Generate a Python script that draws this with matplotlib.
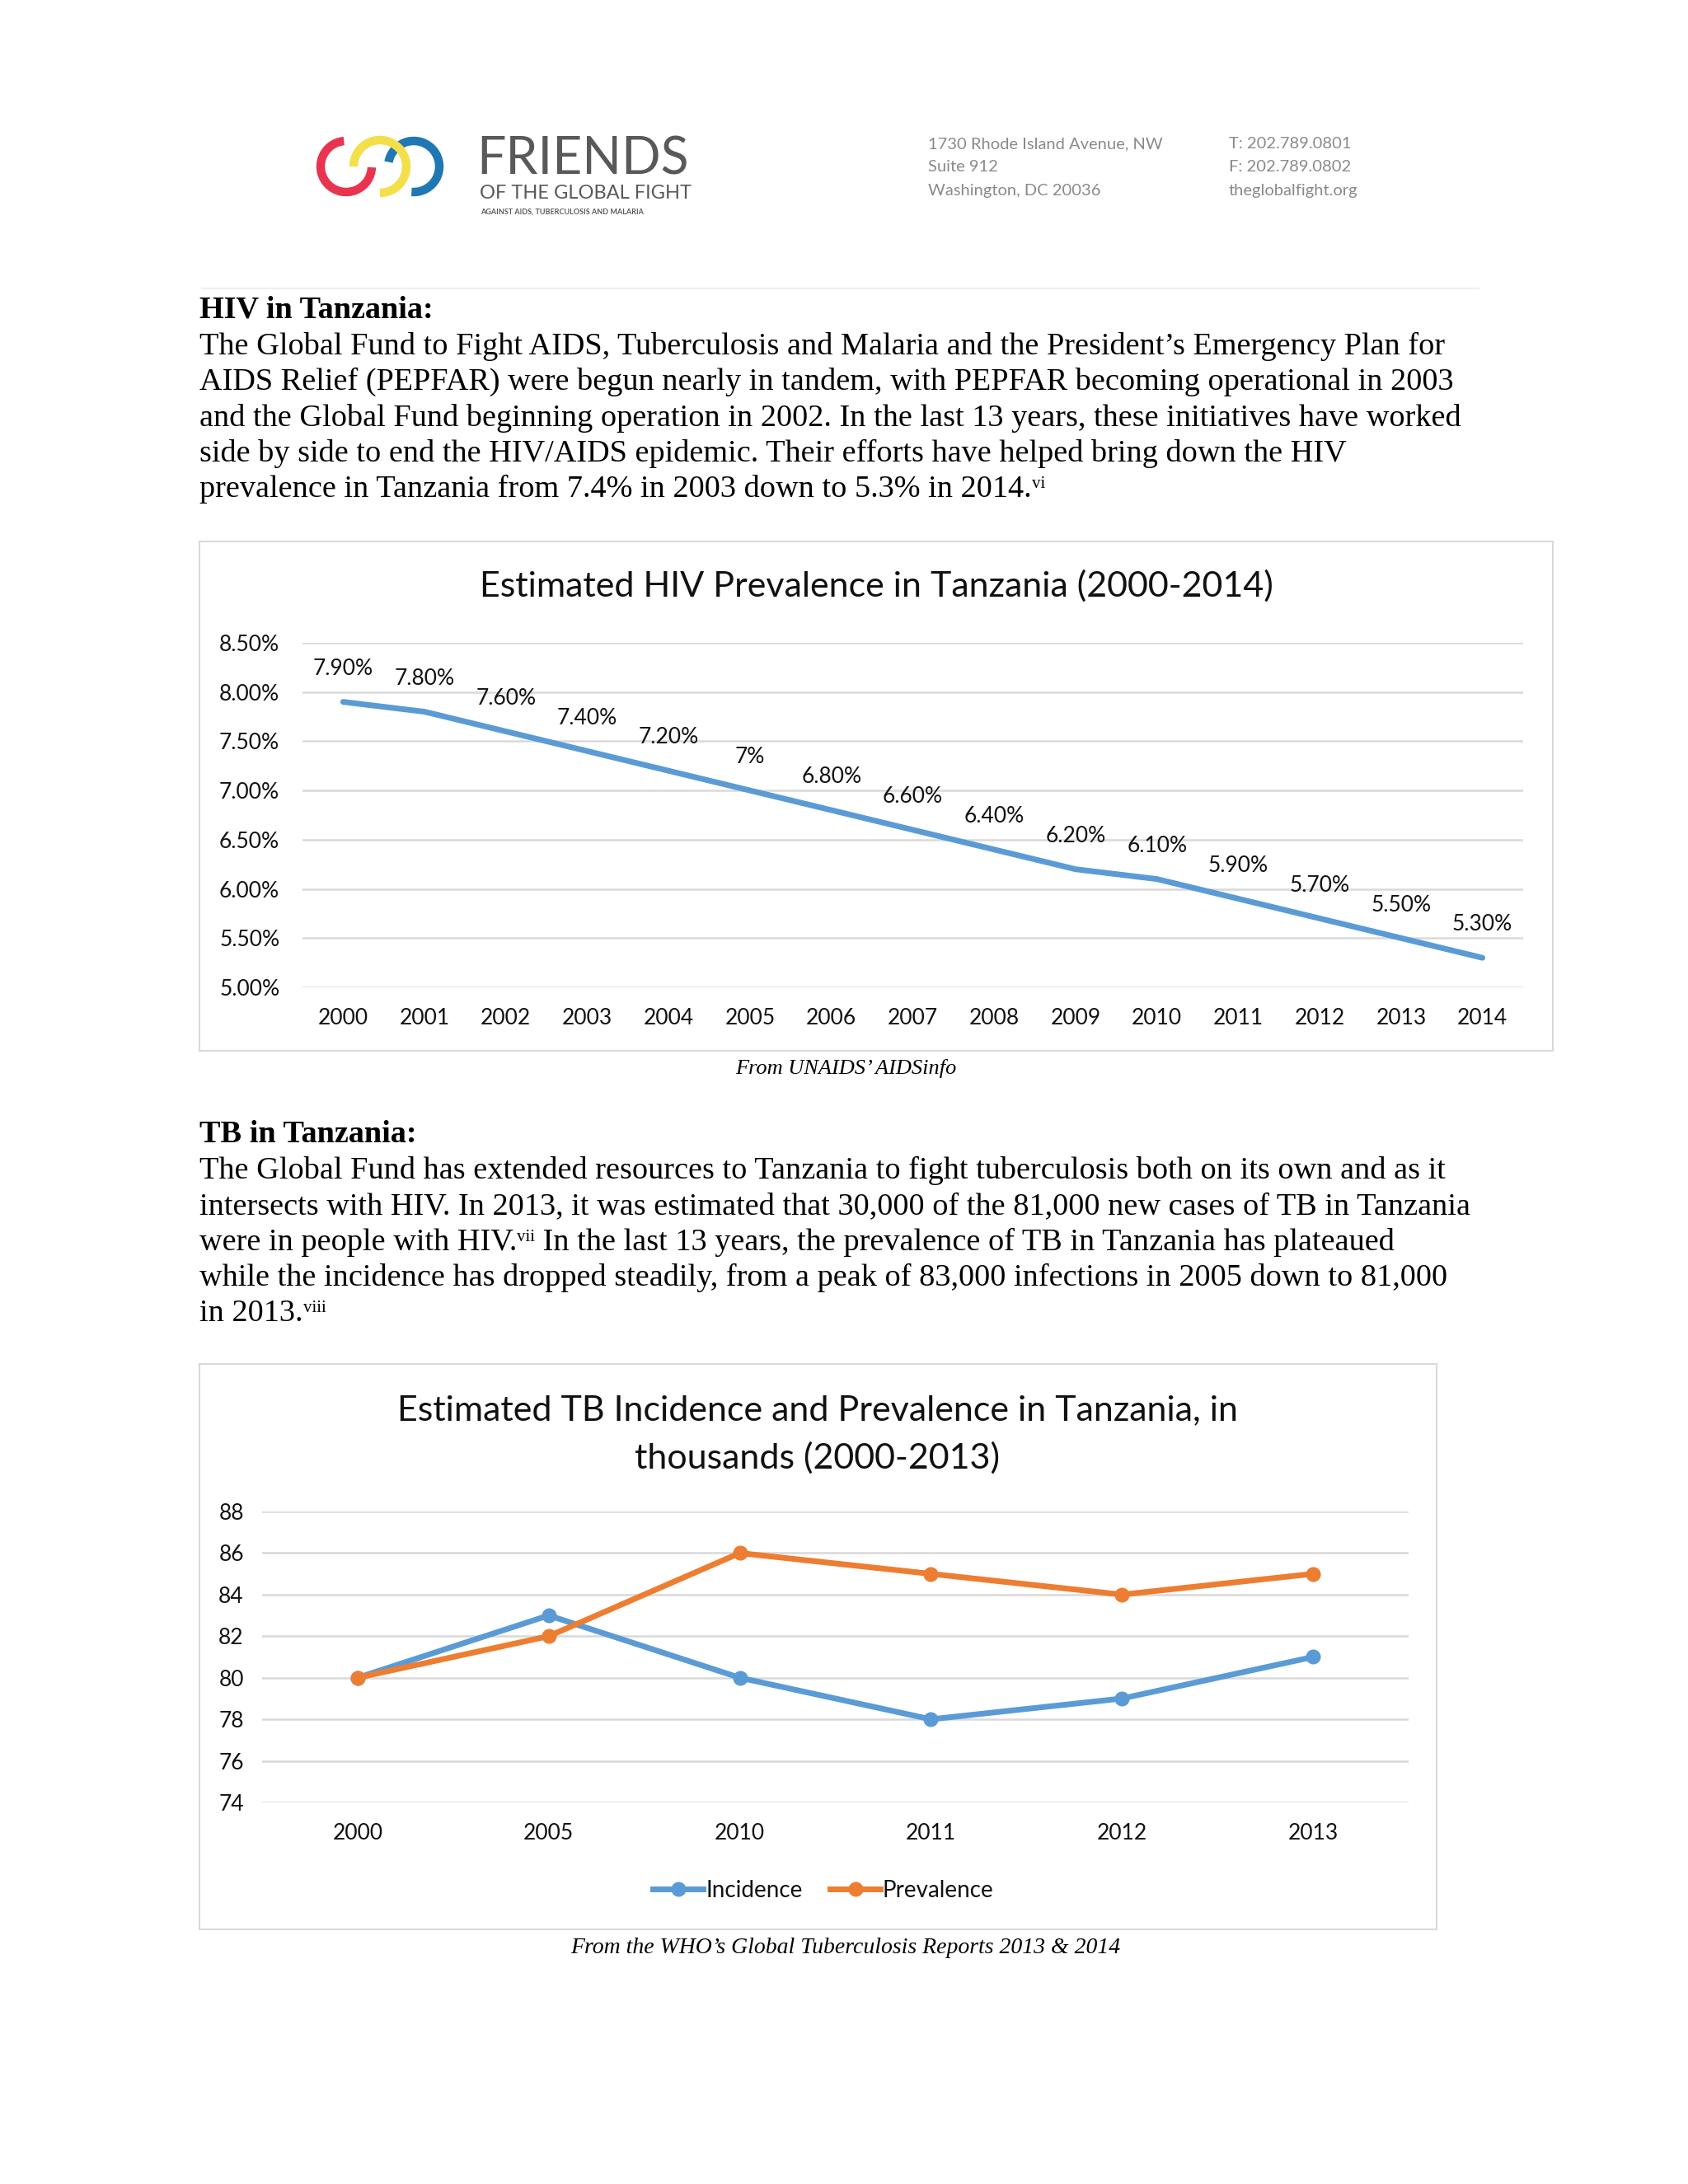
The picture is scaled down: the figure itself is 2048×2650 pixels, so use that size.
import matplotlib.pyplot as plt
from matplotlib.patches import Rectangle, Arc
from matplotlib.lines import Line2D

# datos del grafico de VIH
hiv_years = ['2000', '2001', '2002', '2003', '2004', '2005', '2006', '2007',
             '2008', '2009', '2010', '2011', '2012', '2013', '2014']
hiv_prev = [7.9, 7.8, 7.6, 7.4, 7.2, 7.0, 6.8, 6.6, 6.4, 6.2, 6.1, 5.9, 5.7, 5.5, 5.3]
hiv_labels = ['7.90%', '7.80%', '7.60%', '7.40%', '7.20%', '7%', '6.80%', '6.60%',
              '6.40%', '6.20%', '6.10%', '5.90%', '5.70%', '5.50%', '5.30%']
hiv_yticks = [5.0, 5.5, 6.0, 6.5, 7.0, 7.5, 8.0, 8.5]
hiv_ytick_labels = ['5.00%', '5.50%', '6.00%', '6.50%', '7.00%', '7.50%', '8.00%', '8.50%']

# datos del grafico de TB (miles)
tb_years = ['2000', '2005', '2010', '2011', '2012', '2013']
tb_incidence = [80, 83, 80, 78, 79, 81]
tb_prevalence = [80, 82, 86, 85, 84, 85]
tb_yticks = [74, 76, 78, 80, 82, 84, 86, 88]

hiv_text = [
    'The Global Fund to Fight AIDS, Tuberculosis and Malaria and the President\u2019s Emergency Plan for',
    'AIDS Relief (PEPFAR) were begun nearly in tandem, with PEPFAR becoming operational in 2003',
    'and the Global Fund beginning operation in 2002. In the last 13 years, these initiatives have worked',
    'side by side to end the HIV/AIDS epidemic. Their efforts have helped bring down the HIV',
]
tb_text = [
    'The Global Fund has extended resources to Tanzania to fight tuberculosis both on its own and as it',
    'intersects with HIV. In 2013, it was estimated that 30,000 of the 81,000 new cases of TB in Tanzania',
]

W, H = 2048, 2650
SERIF = 'Liberation Serif'
SANS = 'Lato'
BLUE = '#5B9BD5'
ORANGE = '#ED7D31'
GRID = '#D9D9D9'
TXT = '#111111'
BODY = 27.5

fig = plt.figure(figsize=(W / 100, H / 100), dpi=100)
renderer = fig.canvas.get_renderer()


def fx(px):
    return px / W


def fy(py):
    return 1 - py / H


def segs(x, y, parts):
    # escribe varios trozos seguidos en la misma linea (para los superindices)
    for s, size, dy in parts:
        t = fig.text(fx(x), fy(y - dy), s, fontsize=size, family=SERIF, va='baseline')
        x += t.get_window_extent(renderer).width


# ---- cabecera / logo ----
logo = fig.add_axes([fx(370), fy(250), fx(180), 100 / H])
logo.set_xlim(370, 550)
logo.set_ylim(H - 250, H - 150)
logo.set_aspect('equal')
logo.axis('off')
logo.add_patch(Arc((502, H - 202), 62, 62, theta1=-95, theta2=170, color='#1F77B4', lw=7.5))
logo.add_patch(Arc((420, H - 202), 62, 62, theta1=95, theta2=358, color='#E8344E', lw=7.5))
logo.add_patch(Arc((461, H - 202), 64, 64, theta1=-90, theta2=180, color='#F3DF4A', lw=7.5))

fig.text(fx(578), fy(212), 'FRIENDS', fontsize=45, family=SANS,
         color='#58595B', va='baseline')
fig.text(fx(582), fy(241), 'OF THE GLOBAL FIGHT', fontsize=17, family=SANS,
         color='#58595B', va='baseline')
fig.text(fx(583), fy(260), 'AGAINST AIDS, TUBERCULOSIS AND MALARIA', fontsize=6.5,
         family=SANS, fontweight='bold', color='#58595B', va='baseline')
for i, (a, b) in enumerate([('1730 Rhode Island Avenue, NW', 'T: 202.789.0801'),
                            ('Suite 912', 'F: 202.789.0802'),
                            ('Washington, DC 20036', 'theglobalfight.org')]):
    fig.text(fx(1126), fy(180 + i * 28.5), a, fontsize=14.5, family=SANS, color='#8A8A8A', va='baseline')
    fig.text(fx(1491), fy(180 + i * 28.5), b, fontsize=14.5, family=SANS, color='#8A8A8A', va='baseline')

fig.add_artist(Line2D([fx(245), fx(1794)], [fy(350), fy(350)], color='#F0F0F0', lw=1.5))

# ---- texto VIH ----
fig.text(fx(242), fy(386), 'HIV in Tanzania:', fontsize=BODY, family=SERIF,
         fontweight='bold', va='baseline')
for i, line in enumerate(hiv_text):
    fig.text(fx(242), fy(430 + i * 43.3), line, fontsize=BODY, family=SERIF, va='baseline')
segs(242, 430 + 4 * 43.3, [('prevalence in Tanzania from 7.4% in 2003 down to 5.3% in 2014.', BODY, 0),
                           ('vi', 15, 11)])

# ---- grafico VIH ----
fig.add_artist(Rectangle((fx(242), fy(1275)), fx(1884 - 242), (1275 - 657) / H,
                         transform=fig.transFigure, fill=False, edgecolor=GRID, lw=1.5))
ax1 = fig.add_axes([fx(367), fy(1198), fx(1848 - 367), (1198 - 780) / H])
x1 = list(range(len(hiv_years)))
ax1.plot(x1, hiv_prev, color=BLUE, lw=5, solid_capstyle='round', solid_joinstyle='round', zorder=3)
for xi, v, lab in zip(x1, hiv_prev, hiv_labels):
    ax1.annotate(lab, (xi, v), xytext=(0, 29), textcoords='offset points', ha='center',
                 va='center', fontsize=19, family=SANS, color=TXT)
ax1.set_xlim(-0.5, len(hiv_years) - 0.5)
ax1.set_ylim(5.0, 8.5)
ax1.set_xticks(x1)
ax1.set_xticklabels(hiv_years)
ax1.set_yticks(hiv_yticks)
ax1.set_yticklabels(hiv_ytick_labels)
fig.text(fx(1063), fy(711), 'Estimated HIV Prevalence in Tanzania (2000-2014)', fontsize=31,
         family=SANS, color=TXT, ha='center', va='center')

fig.text(fx(1026), fy(1303), 'From UNAIDS\u2019 AIDSinfo', fontsize=19, family=SERIF,
         style='italic', ha='center', va='baseline')

# ---- texto TB ----
fig.text(fx(242), fy(1386), 'TB in Tanzania:', fontsize=BODY, family=SERIF,
         fontweight='bold', va='baseline')
for i, line in enumerate(tb_text):
    fig.text(fx(242), fy(1430 + i * 43.3), line, fontsize=BODY, family=SERIF, va='baseline')
segs(242, 1430 + 2 * 43.3, [('were in people with HIV.', BODY, 0), ('vii', 15, 11),
                            (' In the last 13 years, the prevalence of TB in Tanzania has plateaued', BODY, 0)])
fig.text(fx(242), fy(1430 + 3 * 43.3),
         'while the incidence has dropped steadily, from a peak of 83,000 infections in 2005 down to 81,000',
         fontsize=BODY, family=SERIF, va='baseline')
segs(242, 1430 + 4 * 43.3, [('in 2013.', BODY, 0), ('viii', 15, 11)])

# ---- grafico TB ----
fig.add_artist(Rectangle((fx(242), fy(2341)), fx(1743 - 242), (2341 - 1655) / H,
                         transform=fig.transFigure, fill=False, edgecolor=GRID, lw=1.5))
ax2 = fig.add_axes([fx(318), fy(2187), fx(1709 - 318), (2187 - 1834) / H])
x2 = list(range(len(tb_years)))
ax2.plot(x2, tb_incidence, color=BLUE, lw=5, marker='o', ms=12, label='Incidence', zorder=3)
ax2.plot(x2, tb_prevalence, color=ORANGE, lw=5, marker='o', ms=12, label='Prevalence', zorder=4)
ax2.set_xlim(-0.5, len(tb_years) - 0.5)
ax2.set_ylim(74, 88)
ax2.set_xticks(x2)
ax2.set_xticklabels(tb_years)
ax2.set_yticks(tb_yticks)
fig.text(fx(992), fy(1711), 'Estimated TB Incidence and Prevalence in Tanzania, in',
         fontsize=31, family=SANS, color=TXT, ha='center', va='center')
fig.text(fx(992), fy(1769), 'thousands (2000-2013)',
         fontsize=31, family=SANS, color=TXT, ha='center', va='center')
ax2.legend(loc='center', bbox_to_anchor=(fx(999), fy(2294)), bbox_transform=fig.transFigure,
           ncol=2, frameon=False, prop={'family': SANS, 'size': 20}, labelcolor=TXT,
           handlelength=2.2, handletextpad=0.1, columnspacing=1.2)

fig.text(fx(1026), fy(2370), 'From the WHO\u2019s Global Tuberculosis Reports 2013 & 2014',
         fontsize=20, family=SERIF, style='italic', ha='center', va='baseline')

for ax, pad in [(ax1, 20), (ax2, 16)]:
    for sp in ax.spines.values():
        sp.set_visible(False)
    ax.grid(axis='y', color=GRID, lw=1.8)
    ax.set_axisbelow(True)
    ax.tick_params(length=0, labelsize=19, labelcolor=TXT)
    ax.tick_params(axis='y', pad=pad)
    ax.tick_params(axis='x', pad=18)
    for lab in ax.get_xticklabels() + ax.get_yticklabels():
        lab.set_family(SANS)
    ax.set_facecolor('none')

fig.savefig('out.png', dpi=100, facecolor='white')
